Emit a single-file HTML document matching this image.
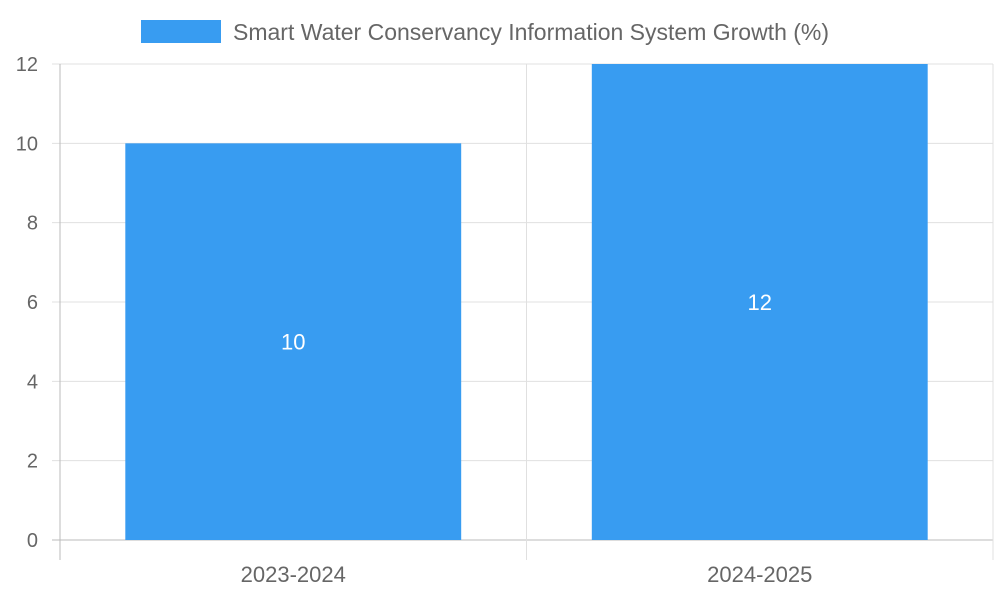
<!DOCTYPE html>
<html><head><meta charset="utf-8"><style>
html,body{margin:0;padding:0;background:#fff;width:1000px;height:600px;overflow:hidden}
text{font-family:"Liberation Sans",sans-serif}
</style></head><body>
<svg id="chart" width="1000" height="600">
<rect x="141" y="20" width="80" height="23" fill="#389cf1"/>
<text x="233" y="40" font-size="23" fill="#666">Smart Water Conservancy Information System Growth (%)</text>
<g id="grid"></g><g id="bars"></g><g id="labels"></g>
</svg>
<script>
const categories=["2023-2024","2024-2025"];
const values=[10,12];
const yTicks=[0,2,4,6,8,10,12];
const L=60,R=993,T=64,B=540,yMax=12;
const y=v=>B-(v/yMax)*(B-T);
const bw=(R-L)/categories.length;
const x=i=>L+i*bw;
const NS="http://www.w3.org/2000/svg";
function mk(tag,attrs,parent,txt){const e=document.createElementNS(NS,tag);for(const k in attrs)e.setAttribute(k,attrs[k]);if(txt!==undefined)e.textContent=txt;parent.appendChild(e);return e;}
const g=document.getElementById('grid'),b=document.getElementById('bars'),lb=document.getElementById('labels');
yTicks.forEach(t=>{
  const ln=mk('line',{x1:L-8,x2:R,y1:y(t),y2:y(t),stroke:t===0?'#bbb':'#e0e0e0','stroke-width':1},g);
  
  
  const tx=mk('text',{x:L-22,y:y(t)+7,'font-size':20,fill:'#666','text-anchor':'end'},lb,String(t));
  
  
});
for(let i=0;i<=categories.length;i++){
  const ln=mk('line',{x1:x(i),x2:x(i),y1:T,y2:B+20,stroke:i===0?'#bbb':'#e0e0e0','stroke-width':1},g);
  
  
}
categories.forEach((c,i)=>{
  const w=bw*0.72,bx=x(i)+(bw-w)/2;
  const r=mk('rect',{x:bx,y:y(values[i]),width:w,height:B-y(values[i]),fill:'#389cf1'},b);
  
  
  const v=mk('text',{x:x(i)+bw/2,y:(y(values[i])+B)/2+8,'font-size':22,fill:'#fff','text-anchor':'middle'},lb,String(values[i]));
  
  
  const t=mk('text',{x:x(i)+bw/2,y:582,'font-size':22,fill:'#666','text-anchor':'middle'},lb,c);
  
  
});
</script>
</body></html>
